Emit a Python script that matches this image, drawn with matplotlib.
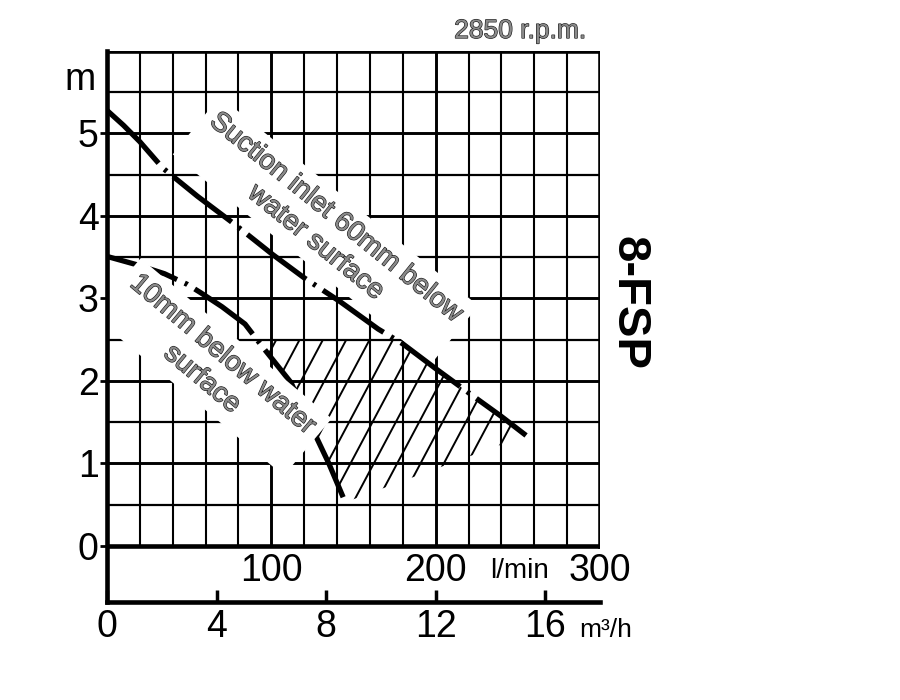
import matplotlib
matplotlib.use("Agg")
import matplotlib.pyplot as plt
import matplotlib.patheffects as pe
from matplotlib.patches import Polygon
import numpy as np

plt.rcParams['font.family'] = ['Liberation Sans', 'DejaVu Sans']

# curves: flow in l/min, head in m
upper_q = [0, 10, 20, 34, 55, 77, 101, 120, 142, 165, 180, 200, 224, 240, 255]
upper_h = [5.28, 5.10, 4.90, 4.58, 4.24, 3.91, 3.53, 3.25, 2.96, 2.63, 2.45, 2.15, 1.80, 1.57, 1.34]
lower_q = [0, 18, 35, 49, 57, 70, 84, 94, 104, 112, 118, 125, 135, 145]
lower_h = [3.51, 3.41, 3.30, 3.17, 3.07, 2.90, 2.69, 2.43, 2.18, 1.98, 1.72, 1.42, 1.00, 0.53]

head_ticks = [0, 1, 2, 3, 4, 5]
lmin_labels = [100, 200, 300]
m3h_ticks = [0, 4, 8, 12, 16]

hatch_top = 2.5

fig = plt.figure(figsize=(9, 7), dpi=100)
ax = fig.add_axes([107 / 900, 1 - 602 / 700, 493 / 900, (602 - 51) / 700])
ax.set_xlim(0, 300)
ax.set_ylim(-0.679, 6)

# grid
for q in np.arange(20, 300, 20):
    lw = 2.1 if q % 100 == 0 else 1.5
    ax.plot([q, q], [0, 6], color='black', lw=lw, zorder=1, solid_capstyle='butt')
for h in np.arange(0.5, 6, 0.5):
    lw = 2.1 if h % 1 == 0 else 1.6
    ax.plot([0, 300], [h, h], color='black', lw=lw, zorder=1, solid_capstyle='butt')

# frame of the grid
ax.plot([0, 300, 300], [6, 6, 0], color='black', lw=3.3, zorder=6, solid_joinstyle='miter')
ax.plot([0, 300], [0, 0], color='black', lw=3.3, zorder=6, solid_capstyle='projecting')
for s in ['top', 'right']:
    ax.spines[s].set_visible(False)
for s in ['left', 'bottom']:
    ax.spines[s].set_linewidth(3.3)
    ax.spines[s].set_zorder(6)

# hatched working area between the curves
xl = np.interp(hatch_top, lower_h[::-1], lower_q[::-1])
xu = np.interp(hatch_top, upper_h[::-1], upper_q[::-1])
poly = [(xl, hatch_top)]
poly += [(q, h) for q, h in zip(lower_q, lower_h) if h < hatch_top]
poly += [(q, h) for q, h in zip(upper_q, upper_h) if h < hatch_top][::-1]
poly += [(xu, hatch_top)]
clip = Polygon(poly, closed=True, facecolor='none', edgecolor='none')
ax.add_patch(clip)
k = np.tan(np.radians(62)) * (493 / 300) / 82.5
for xt in np.arange(103, 290, 14.2):
    ys = np.array([0.0, 3.5])
    xs = xt + (ys - hatch_top) / k
    ln, = ax.plot(xs, ys, color='black', lw=1.4, zorder=2)
    ln.set_clip_path(clip)

style = (0, (14, 1.6, 0.6, 1.6))
ax.plot(upper_q, upper_h, color='black', lw=3.8, ls=style, zorder=4, dash_capstyle='butt')
ax.plot(lower_q, lower_h, color='black', lw=3.8, ls=style, zorder=4, dash_capstyle='butt')

halo = [pe.withStroke(linewidth=0.9, foreground='#1a1a1a')]
box = dict(boxstyle='square,pad=0.3', facecolor='white', edgecolor='none')
ax.text(133, 3.83, 'Suction inlet 60mm below\nwater surface', fontsize=20, color='#8a8a8a',
        rotation=-39, rotation_mode='anchor', ha='center', va='center',
        multialignment='center', linespacing=1.3, bbox=box, path_effects=halo, zorder=3)
ax.text(64, 2.17, '10mm below water\nsurface', fontsize=20, color='#8a8a8a',
        rotation=-40, rotation_mode='anchor', ha='center', va='center',
        multialignment='center', linespacing=1.3, bbox=box, path_effects=halo, zorder=5)

# axes ticks
ax.set_yticks(head_ticks)
ax.set_yticklabels([str(v) for v in head_ticks])
ax.tick_params(axis='y', direction='out', length=5, width=2, pad=1, labelsize=27)
ax.set_xticks([v * 1000 / 60 for v in m3h_ticks])
ax.set_xticklabels([str(v) for v in m3h_ticks])
ax.tick_params(axis='x', direction='in', length=9, width=2.5, pad=5, labelsize=27)

for v in lmin_labels:
    ax.text(v, -0.30, str(v), fontsize=27, ha='center', va='center')
ax.text(251, -0.30, 'l/min', fontsize=20, ha='center', va='center')

fig.text(606 / 900, 1 - 630 / 700, 'm³/h', fontsize=19, ha='center', va='center')
fig.text(80 / 900, 1 - 80 / 700, 'm', fontsize=27, ha='center', va='center')
fig.text(520 / 900, 1 - 31 / 700, '2850 r.p.m.', fontsize=19, color='#8a8a8a',
         ha='center', va='center', path_effects=halo)
fig.text(628 / 900, 1 - 303 / 700, '8-FSP', fontsize=34, fontweight='bold',
         rotation=-90, ha='center', va='center')

fig.savefig('out.png', dpi=100)
